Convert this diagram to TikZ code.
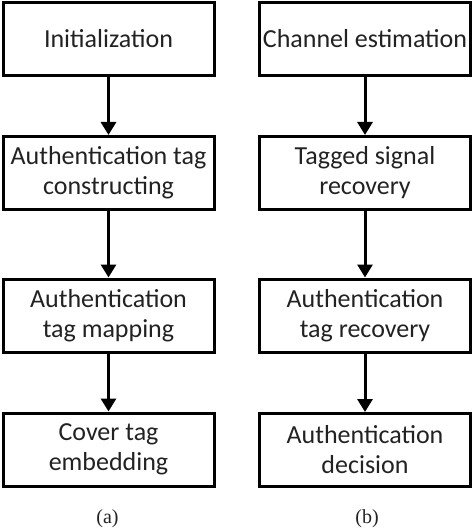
\documentclass[tikz,border=0pt]{standalone}
\usepackage{fontspec}
\setmainfont{Carlito}
\newfontfamily\capfont{Liberation Serif}
\usetikzlibrary{arrows.meta}
\definecolor{txt}{HTML}{222222}
\begin{document}
\begin{tikzpicture}[x=1pt,y=-1pt,
  stepbox/.style={draw=black,line width=3pt,minimum width=211pt,minimum height=73pt,
    align=center,font=\fontsize{26}{30}\selectfont,text=txt,inner sep=0pt},
  flow/.style={line width=3pt,-{Triangle[length=13pt,width=15pt]}},
  caplabel/.style={font=\capfont\fontsize{20}{22}\selectfont,text=txt}]
\useasboundingbox (0,0) rectangle (474,529);
\node[stepbox] (a1) at (108.5,39) {Initialization};
\node[stepbox] (a2) at (108.5,173) {Authentication tag\\constructing};
\node[stepbox] (a3) at (108.5,315.5) {Authentication\\tag mapping};
\node[stepbox] (a4) at (108.5,449.5) {Cover tag\\embedding};
\node[stepbox] (b1) at (365,39) {Channel estimation};
\node[stepbox] (b2) at (365,173) {Tagged signal\\recovery};
\node[stepbox] (b3) at (365,315.5) {Authentication\\tag recovery};
\node[stepbox] (b4) at (365,450) {Authentication\\decision};
\draw[flow] (a1) -- (a2);
\draw[flow] (a2) -- (a3);
\draw[flow] (a3) -- (a4);
\draw[flow] (b1) -- (b2);
\draw[flow] (b2) -- (b3);
\draw[flow] (b3) -- (b4);
\node[caplabel] (ca) at (107.5,519) {(a)};
\node[caplabel] (cb) at (367,519) {(b)};
\end{tikzpicture}
\end{document}
